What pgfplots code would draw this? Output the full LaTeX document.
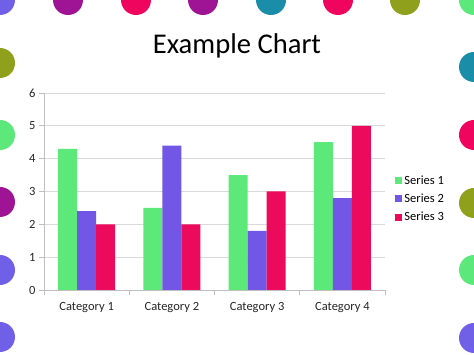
\documentclass[border=0pt]{standalone}
\usepackage{fontspec}
\setmainfont{Carlito}
\usepackage{pgfplots}
\pgfplotsset{compat=1.18}
\definecolor{sgreen}{HTML}{5DE87A}
\definecolor{sblue}{HTML}{7257E6}
\definecolor{sred}{HTML}{EC0A5C}
\definecolor{cpurple}{HTML}{9E1494}
\definecolor{cteal}{HTML}{1A8DA8}
\definecolor{colive}{HTML}{8FA01C}
\definecolor{cpink}{HTML}{F0055E}
\definecolor{cblue}{HTML}{7060E8}
\definecolor{cgreen}{HTML}{5CE87A}
\definecolor{gridgray}{HTML}{D9D9D9}
\definecolor{axgray}{HTML}{BFBFBF}
\begin{document}
\begin{tikzpicture}
\useasboundingbox (0pt,0pt) rectangle (474pt,355pt);
\fill[white] (0pt,0pt) rectangle (474pt,355pt);
% decorative circles (slide background)
\foreach \xx/\cc in {0/cblue,68/cpurple,136/cpink,203/cpurple,271/cteal,338/cpink,405/colive,474/cgreen}
  \fill[\cc] (\xx pt,355pt) circle[radius=15pt];
\foreach \yy/\cc in {63/colive,135/cgreen,202/cpurple,270/cblue,337/cblue}
  \fill[\cc] (0pt,355pt-\yy pt) circle[radius=15pt];
\foreach \yy/\cc in {67/cteal,135/cpink,203/colive,270/cgreen,338/cblue}
  \fill[\cc] (474pt,355pt-\yy pt) circle[radius=15pt];
\node[font=\fontsize{28.6}{32}\selectfont, anchor=base, inner sep=0pt] at (237pt,301pt) {Example Chart};
\begin{axis}[
  at={(44pt,65pt)}, anchor=south west,
  scale only axis, width=341pt, height=197pt,
  ybar=0pt, bar width=19pt,
  xmin=-0.5, xmax=3.5, ymin=0, ymax=6,
  xtick={0,1,2,3},
  xticklabels={Category 1,Category 2,Category 3,Category 4},
  minor xtick={-0.5,0.5,1.5,2.5,3.5},
  ytick={0,1,2,3,4,5,6},
  axis lines=left,
  axis line style={-, draw=axgray, line width=0.8pt},
  tick align=outside,
  major tick length=5pt,
  minor tick length=5pt,
  x tick style={draw=none},
  minor x tick style={draw=axgray, line width=0.8pt},
  y tick style={draw=axgray, line width=0.8pt},
  ymajorgrids, grid style={draw=gridgray, line width=0.8pt},
  tick label style={font=\fontsize{12.5}{14}\selectfont, text=black!85},
  /pgf/number format/assume math mode=true,
  xticklabel style={yshift=-4pt},
  legend style={at={(1.03,0.462)}, anchor=west, draw=none, fill=none,
    font=\fontsize{12.5}{14}\selectfont, row sep=4pt, inner sep=0pt,
    /tikz/every even column/.append style={column sep=1pt}},
  legend cell align=left,
  legend image code/.code={\fill[#1] (0pt,-3.5pt) rectangle (7pt,3.5pt);},
]
\addplot[fill=sgreen, draw=none] coordinates {(0,4.3) (1,2.5) (2,3.5) (3,4.5)};
\addplot[fill=sblue, draw=none] coordinates {(0,2.4) (1,4.4) (2,1.8) (3,2.8)};
\addplot[fill=sred, draw=none] coordinates {(0,2) (1,2) (2,3) (3,5)};
\legend{Series 1,Series 2,Series 3}
\end{axis}
\end{tikzpicture}
\end{document}
